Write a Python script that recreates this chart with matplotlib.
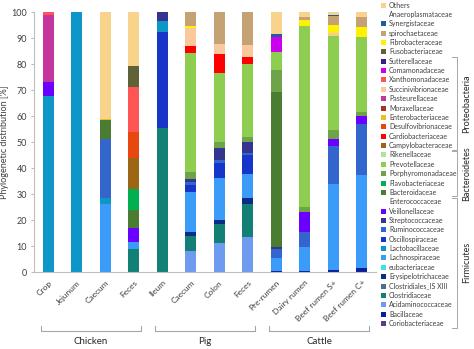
import matplotlib
matplotlib.use("Agg")
import matplotlib.pyplot as plt
from matplotlib.patches import Rectangle
from matplotlib.lines import Line2D

plt.rcParams['font.family'] = ['Lato', 'DejaVu Sans']

# samples and host groups
samples = ['Crop', 'Jejunum', 'Caecum', 'Feces', 'Ileum', 'Caecum', 'Colon', 'Feces',
           'Pre-rumen', 'Dairy rumen', 'Beef rumen S+', 'Beef rumen C+']
groups = ['Chicken', 'Pig', 'Cattle']
group_sizes = [4, 4, 4]

# relative abundance per family (%), one value per sample
coriobacteriaceae = [0, 0, 0, 0, 0, 0, 0, 0, 0, 0, 0, 0]
bacillaceae = [0, 0, 0, 0, 0, 0, 0, 0, 0.5, 0.4, 0.8, 1.4]
acidaminococcaceae = [0, 0, 0, 0, 0, 8.2, 11.3, 13.3, 0, 0, 0, 0]
clostridiaceae = [0, 0, 0, 8.7, 55.3, 5.6, 7.3, 12.9, 0, 0, 0, 0]
clostridiales_xiii = [0, 0, 0, 0, 0, 0, 0, 0, 0, 0, 0, 0]
erysipelotrichaceae = [0, 0, 0, 0, 0, 1.7, 1.4, 2.4, 0, 0, 0, 0]
eubacteriaceae = [0, 0, 0, 0, 0, 0, 0, 0, 0, 0, 0, 0]
lachnospiraceae = [0, 0, 26.0, 2.7, 0, 15.1, 16.0, 9.0, 4.8, 9.3, 33.0, 35.9]
oscillospiraceae = [0, 0, 0, 0, 37.1, 2.9, 5.8, 7.4, 0, 0, 0, 0]
lactobacillaceae = [67.8, 100, 2.6, 0, 4.3, 0, 0, 0, 0, 0, 0, 0]
ruminococcaceae = [0, 0, 22.4, 0, 0, 1.0, 1.3, 0.9, 3.4, 5.5, 14.6, 19.5]
streptococcaceae = [0, 0, 0, 0, 3.3, 1.1, 4.7, 4.2, 1.0, 0, 0, 0]
veillonellaceae = [5.2, 0, 0, 5.7, 0, 0, 0, 0, 0, 7.7, 2.9, 3.2]
enterococcaceae = [0, 0, 0, 0, 0, 0, 0, 0, 0, 0, 0, 0]
bacteroidaceae = [0, 0, 7.3, 6.7, 0, 0, 0, 0, 59.4, 0, 0, 0]
flavobacteriaceae = [0, 0, 0, 8.1, 0, 0, 0, 0, 0, 0, 0, 0]
porphyromonadaceae = [0, 0, 0, 0, 0, 3.0, 2.3, 1.7, 8.5, 2.2, 3.5, 1.4]
prevotellaceae = [0, 0, 0, 0, 0, 45.8, 26.6, 28.1, 7.1, 69.6, 35.9, 28.9]
rikenellaceae = [0, 0, 0, 0, 0, 0, 0, 0, 0, 0, 0, 0]
campylobacteraceae = [0, 0, 0, 12.1, 0, 0, 0, 0, 0, 0, 0, 0]
cardiobacteriaceae = [0, 0, 0, 0, 0, 2.4, 7.0, 2.9, 0, 0, 0, 0]
desulfovibrionaceae = [0, 0, 0, 10.0, 0, 0, 0, 0, 0, 0, 0, 0]
enterobacteriaceae = [0, 0, 0.5, 0, 0, 0, 0, 0, 0, 0, 0, 0]
moraxellaceae = [0, 0, 0, 0, 0, 0, 0, 0, 0, 0, 0, 0]
pasteurellaceae = [25.8, 0, 0, 0, 0, 0, 0, 0, 0, 0, 0, 0]
succinivibrionaceae = [0, 0, 0, 0, 0, 7.2, 3.9, 4.5, 0, 0, 1.4, 0]
xanthomonadaceae = [1.2, 0, 0, 17.2, 0, 0, 0, 0, 0, 0, 0, 0]
comamonadaceae = [0, 0, 0, 0, 0, 0, 0, 0, 5.8, 0, 0, 0]
sutterellaceae = [0, 0, 0, 0, 0, 0, 0, 0, 0, 0, 0, 0]
fusobacteriaceae = [0, 0, 0, 8.0, 0, 0, 0, 0, 0, 0, 0, 0]
fibrobacteraceae = [0, 0, 0, 0, 0, 0.8, 0, 0, 0, 2.2, 2.8, 4.1]
spirochaetaceae = [0, 0, 0, 0, 0, 5.3, 12.4, 12.7, 0, 1.3, 3.5, 3.8]
synergistaceae = [0, 0, 0, 0, 0, 0, 0, 0, 0.9, 0, 0.6, 0]
anaeroplasmataceae = [0, 0, 0, 0, 0, 0, 0, 0, 0, 0, 0, 0]
others = [0, 0, 41.2, 20.8, 0, 0, 0, 0, 8.6, 1.8, 0.9, 1.8]

# stacking order, bottom -> top: (label, values, colour)
stack = [
    ('Coriobacteriaceae', coriobacteriaceae, '#5c3c8c'),
    ('Bacillaceae', bacillaceae, '#0a1e9a'),
    ('Acidaminococcaceae', acidaminococcaceae, '#6e9af0'),
    ('Clostridiaceae', clostridiaceae, '#128075'),
    ('Clostridiales_IS XIII', clostridiales_xiii, '#4e6e8e'),
    ('Erysipelotrichaceae', erysipelotrichaceae, '#0c2c8a'),
    ('eubacteriaceae', eubacteriaceae, '#3fe0e8'),
    ('Lachnospiraceae', lachnospiraceae, '#3a9cf8'),
    ('Oscillospiraceae', oscillospiraceae, '#1536c8'),
    ('Lactobacillaceae', lactobacillaceae, '#0e96c8'),
    ('Ruminococcaceae', ruminococcaceae, '#3366cc'),
    ('Streptococcaceae', streptococcaceae, '#353590'),
    ('Veillonellaceae', veillonellaceae, '#6a00ff'),
    ('Enterococcaceae', enterococcaceae, '#ffffff'),
    ('Bacteroidaceae', bacteroidaceae, '#4a7d32'),
    ('Flavobacteriaceae', flavobacteriaceae, '#00b050'),
    ('Porphyromonadaceae', porphyromonadaceae, '#6fa34a'),
    ('Prevotellaceae', prevotellaceae, '#8dce50'),
    ('Rikenellaceae', rikenellaceae, '#b6e0a0'),
    ('Campylobacteraceae', campylobacteraceae, '#9c6615'),
    ('Cardiobacteriaceae', cardiobacteriaceae, '#ff0000'),
    ('Desulfovibrionaceae', desulfovibrionaceae, '#e8480f'),
    ('Enterobacteriaceae', enterobacteriaceae, '#e8c020'),
    ('Moraxellaceae', moraxellaceae, '#a8322a'),
    ('Pasteurellaceae', pasteurellaceae, '#c4359e'),
    ('Succinivibrionaceae', succinivibrionaceae, '#f9c89b'),
    ('Xanthomonadaceae', xanthomonadaceae, '#ff5555'),
    ('Comamonadaceae', comamonadaceae, '#cc00ee'),
    ('Sutterellaceae', sutterellaceae, '#3f1a8f'),
    ('Fusobacteriaceae', fusobacteriaceae, '#5f6236'),
    ('Fibrobacteraceae', fibrobacteraceae, '#fff200'),
    ('spirochaetaceae', spirochaetaceae, '#c4a274'),
    ('Synergistaceae', synergistaceae, '#1f5c99'),
    ('Anaeroplasmataceae', anaeroplasmataceae, '#ffffff'),
    ('Others', others, '#f9d28c'),
]

# legend order (top -> bottom) as in the original
legend_order = ['Others', 'Anaeroplasmataceae', 'Synergistaceae', 'spirochaetaceae',
                'Fibrobacteraceae', 'Fusobacteriaceae', 'Sutterellaceae', 'Comamonadaceae',
                'Xanthomonadaceae', 'Succinivibrionaceae', 'Pasteurellaceae', 'Moraxellaceae',
                'Enterobacteriaceae', 'Desulfovibrionaceae', 'Cardiobacteriaceae',
                'Campylobacteraceae', 'Rikenellaceae', 'Prevotellaceae', 'Porphyromonadaceae',
                'Flavobacteriaceae', 'Bacteroidaceae', 'Enterococcaceae', 'Veillonellaceae',
                'Streptococcaceae', 'Ruminococcaceae', 'Oscillospiraceae', 'Lactobacillaceae',
                'Lachnospiraceae', 'eubacteriaceae', 'Erysipelotrichaceae',
                'Clostridiales_IS XIII', 'Clostridiaceae', 'Acidaminococcaceae', 'Bacillaceae',
                'Coriobacteriaceae']
phyla = [('Proteobacteria', 'Sutterellaceae', 'Campylobacteraceae'),
         ('Bacteroidetes', 'Rikenellaceae', 'Bacteroidaceae'),
         ('Firmicutes', 'Enterococcaceae', 'Coriobacteriaceae')]

W, H = 474, 349
fig = plt.figure(figsize=(W / 100, H / 100), dpi=100)
ax = fig.add_axes([34 / W, 77 / H, 342 / W, 260 / H])


def fx(px):
    return px / W


def fy(py):
    return 1 - py / H


x = list(range(len(samples)))
bottom = [0.0] * len(samples)
for name, vals, col in stack:
    ax.bar(x, vals, width=0.39, bottom=bottom, color=col, linewidth=0)
    bottom = [b + v for b, v in zip(bottom, vals)]

ax.set_xlim(-0.5, len(samples) - 0.5)
ax.set_ylim(0, 100)
ax.set_yticks(range(0, 101, 10))
ax.tick_params(axis='y', labelsize=6.5, length=2, colors='#bfbfbf', labelcolor='#404040', pad=3)
ax.set_xticks(x)
ax.set_xticklabels(samples, rotation=45, ha='right', rotation_mode='anchor', fontsize=6, color='#404040')
ax.tick_params(axis='x', length=0, pad=5)
for s in ['top', 'right']:
    ax.spines[s].set_visible(False)
for s in ['left', 'bottom']:
    ax.spines[s].set_color('#bfbfbf')
    ax.spines[s].set_linewidth(0.8)
ax.set_ylabel('Phylogenetic distribution [%]', fontsize=6.5, color='#404040')
ax.yaxis.set_label_coords(-0.072, 0.5)

# host group brackets under the x axis
start = 0
for g, n in zip(groups, group_sizes):
    x0 = ax.transData.transform((start - 0.3, 0))[0] + 1
    x1 = ax.transData.transform((start + n - 0.7, 0))[0] - 1
    fig.add_artist(Line2D([fx(x0), fx(x0), fx(x1), fx(x1)],
                          [fy(326), fy(331), fy(331), fy(326)],
                          transform=fig.transFigure, color='#a6a6a6', lw=0.8))
    fig.text(fx((x0 + x1) / 2), fy(342), g, ha='center', va='center', fontsize=7, color='#262626')
    start += n

# legend drawn by hand
colors = {name: col for name, vals, col in stack}
step = 9.37
for i, name in enumerate(legend_order):
    yc = 5 + step * i
    fig.patches.append(Rectangle((fx(381), fy(yc + 2.5)), 5 / W, 5 / H, transform=fig.transFigure,
                                 facecolor=colors[name], edgecolor='none'))
    fig.text(fx(389), fy(yc), name, fontsize=5, va='center', ha='left', color='#404040')

for label, first, last in phyla:
    y0 = 5 + step * legend_order.index(first) - 4
    y1 = 5 + step * legend_order.index(last) + 4
    fig.add_artist(Line2D([fx(452), fx(457), fx(457), fx(452)],
                          [fy(y0), fy(y0), fy(y1), fy(y1)],
                          transform=fig.transFigure, color='#a6a6a6', lw=0.7))
    fig.text(fx(467), fy((y0 + y1) / 2), label, rotation=90, ha='center', va='center',
             fontsize=6.5, color='#262626')

fig.savefig('out.png', dpi=100)
